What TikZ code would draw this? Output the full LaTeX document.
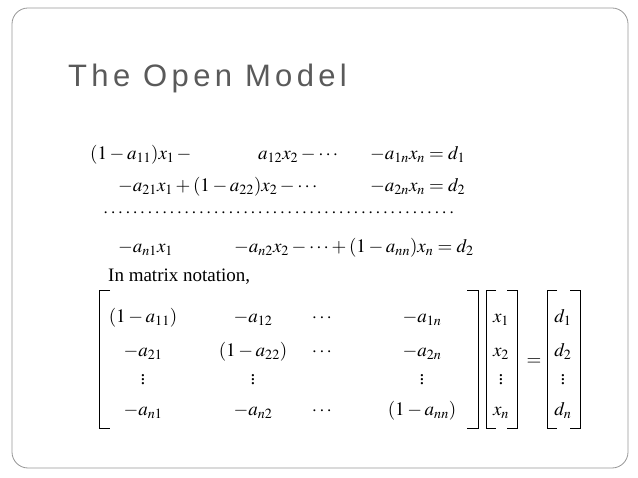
\documentclass[tikz,border=0pt]{standalone}
\usepackage{mathptmx}
\usepackage{fontspec}
\setmainfont{Liberation Serif}
\newfontfamily\titlefont[LetterSpace=14]{Liberation Sans}
\definecolor{frame}{RGB}{150,150,150}
\definecolor{ttl}{RGB}{90,90,90}
\begin{document}
\begin{tikzpicture}[x=1pt,y=-1pt,
  eq/.style={anchor=base west,inner sep=0pt,font=\fontsize{19}{22}\selectfont},
  ent/.style={anchor=base,inner sep=0pt,font=\fontsize{19}{22}\selectfont},
  brk/.style={line width=0.8pt}]
\useasboundingbox (0,0) rectangle (638,478);
\draw[frame,line width=0.8pt,rounded corners=16] (12,8) rectangle (628,468);
\node[anchor=base west,inner sep=0pt,text=ttl,font=\titlefont\fontsize{31}{33}\selectfont] (t) at (68,87) {The Open Model};
% equations
\node[eq] (e11) at (90,160) {$(1-a_{11})x_1\,-$};
\node[eq] (e12) at (258,160) {$a_{12}x_2-\cdots$};
\node[eq] (e13) at (370,160) {$-a_{1n}x_n=d_1$};
\node[eq] (e21) at (118,192) {$-a_{21}x_1+(1-a_{22})x_2-\cdots$};
\node[eq] (e23) at (370,192) {$-a_{2n}x_n=d_2$};
\node[eq] (dots) at (103,218) {$\cdots\cdots\cdots\cdots\cdots\cdots\cdots\cdots\cdots\cdots\cdots\cdots\cdots\cdots\cdots\cdots$};
\node[eq] (e41) at (118,253) {$-a_{n1}x_1$};
\node[eq] (e42) at (234,253) {$-a_{n2}x_2-\cdots+(1-a_{nn})x_n=d_2$};
\node[eq] (txt) at (108,282) {In matrix notation,};
% matrix entries
\foreach \y/\a/\b/\c/\d/\xx/\dd [count=\i] in {
  323/{(1-a_{11})}/{-a_{12}}/{\cdots}/{-a_{1n}}/{x_1}/{d_1},
  357/{-a_{21}}/{(1-a_{22})}/{\cdots}/{-a_{2n}}/{x_2}/{d_2},
  385/{\vdots}/{\vdots}/{}/{\vdots}/{\vdots}/{\vdots},
  416/{-a_{n1}}/{-a_{n2}}/{\cdots}/{(1-a_{nn})}/{x_n}/{d_n}}{
  \node[ent] (m\i a) at (143,\y) {$\a$};
  \node[ent] (m\i b) at (253,\y) {$\b$};
  \node[ent] (m\i c) at (322,\y) {$\c$};
  \node[ent] (m\i d) at (422,\y) {$\d$};
  \node[ent] (m\i x) at (501,\y) {$\xx$};
  \node[ent] (m\i e) at (563,\y) {$\dd$};
}
\node[ent] (eqs) at (534,366) {$=$};
% brackets
\draw[brk] (110,290) -- (99,290) -- (99,428) -- (110,428);
\draw[brk] (467,290) -- (478,290) -- (478,428) -- (467,428);
\draw[brk] (496,290) -- (486,290) -- (486,428) -- (496,428);
\draw[brk] (507,290) -- (517,290) -- (517,428) -- (507,428);
\draw[brk] (557,290) -- (547,290) -- (547,428) -- (557,428);
\draw[brk] (570,290) -- (580,290) -- (580,428) -- (570,428);
\end{tikzpicture}
\end{document}
